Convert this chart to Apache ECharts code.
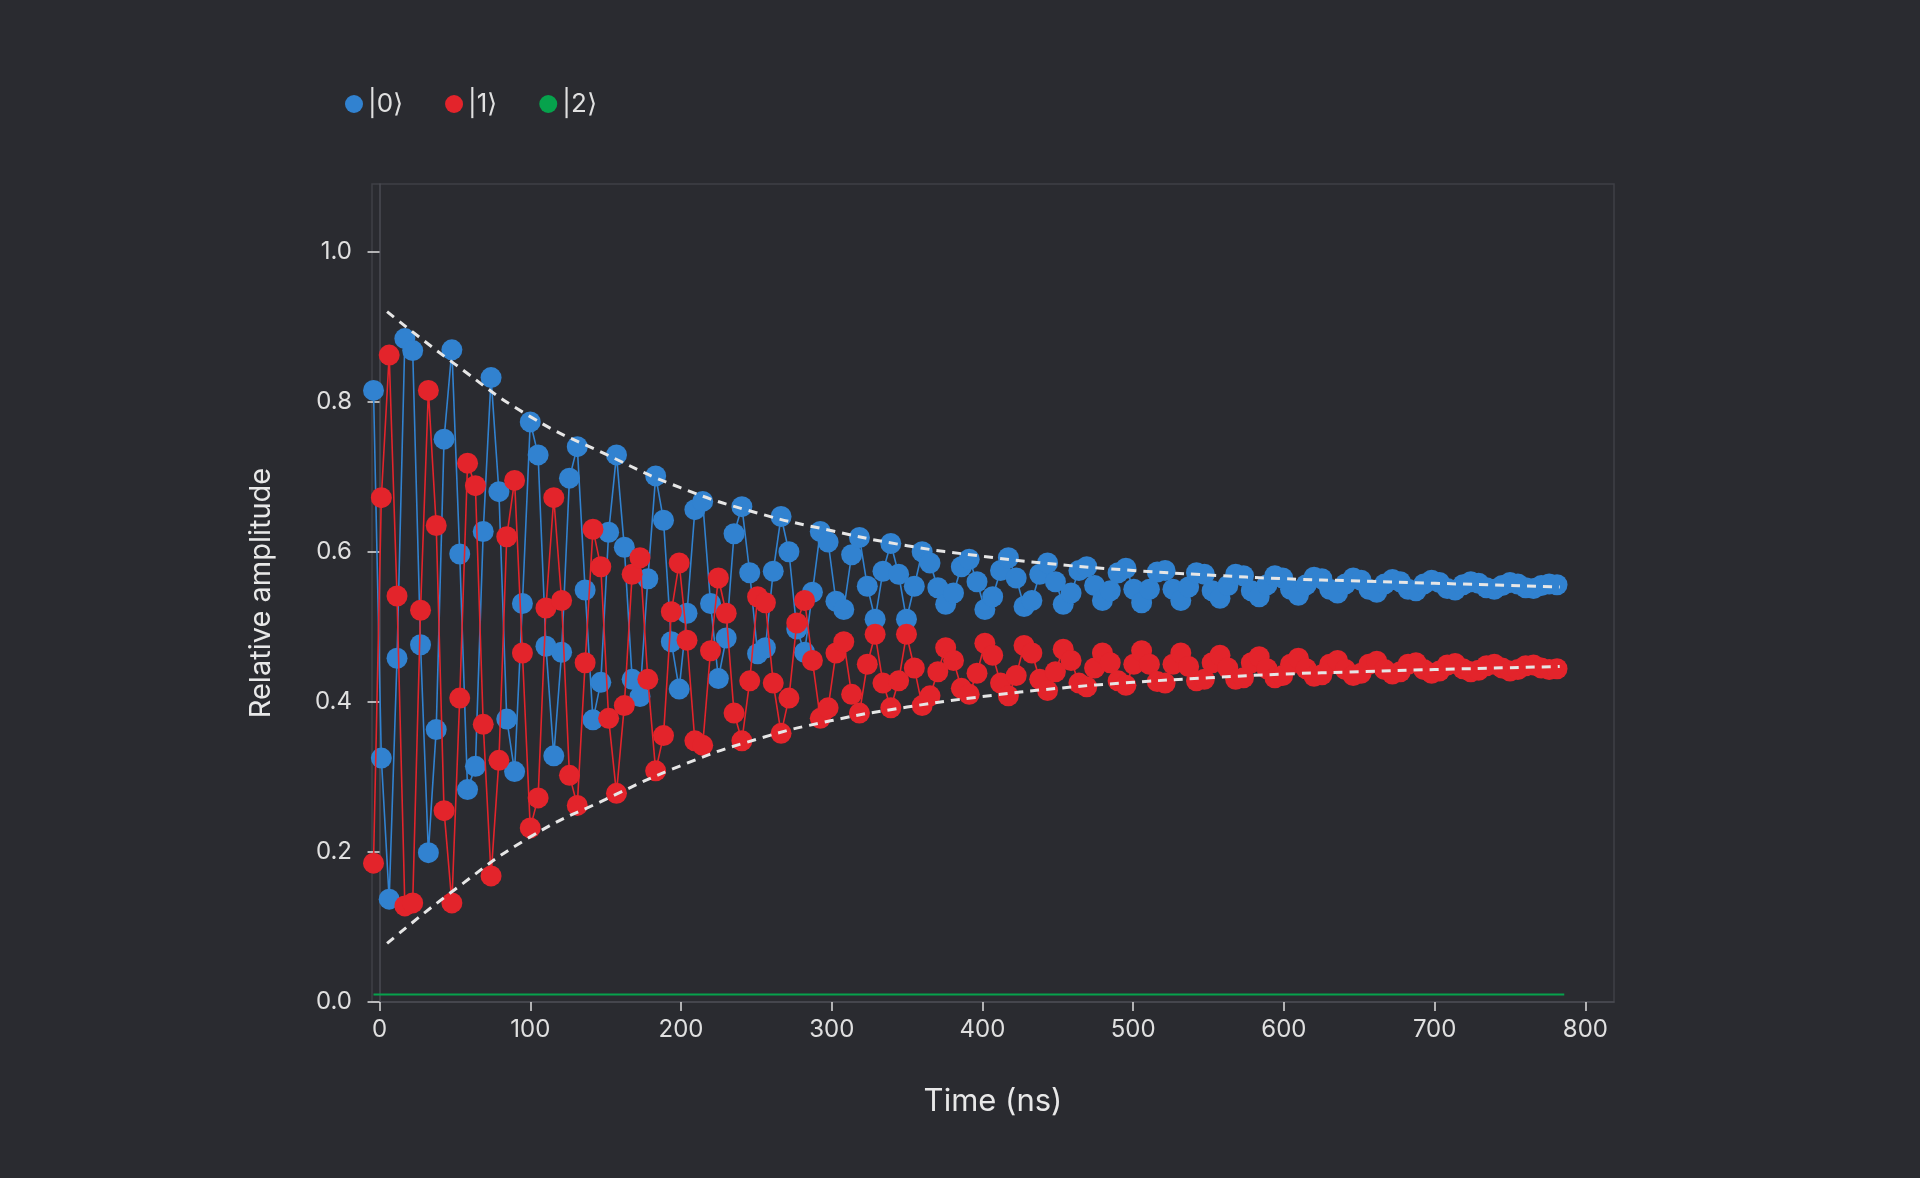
<!DOCTYPE html>
<html><head><meta charset="utf-8">
<script src="https://cdn.jsdelivr.net/npm/echarts@6/dist/echarts.min.js"></script>
<style>html,body{margin:0;padding:0;background:#2a2b30;}#c{width:1920px;height:1178px;}</style>
</head><body><div id="c"></div>
<script>
const times = [-4,1.2,6.4,11.6,16.8,22,27.2,32.4,37.6,42.8,48,53.2,58.4,63.6,68.8,74,79.2,84.4,89.6,94.8,100,105.2,110.4,115.6,120.8,126,131.2,136.4,141.6,146.8,152,157.2,162.4,167.6,172.8,178,183.2,188.4,193.6,198.8,204,209.2,214.4,219.6,224.8,230,235.2,240.4,245.6,250.8,256,261.2,266.4,271.6,276.8,282,287.2,292.4,297.6,302.8,308,313.2,318.4,323.6,328.8,334,339.2,344.4,349.6,354.8,360,365.2,370.4,375.6,380.8,386,391.2,396.4,401.6,406.8,412,417.2,422.4,427.6,432.8,438,443.2,448.4,453.6,458.8,464,469.2,474.4,479.6,484.8,490,495.2,500.4,505.6,510.8,516,521.2,526.4,531.6,536.8,542,547.2,552.4,557.6,562.8,568,573.2,578.4,583.6,588.8,594,599.2,604.4,609.6,614.8,620,625.2,630.4,635.6,640.8,646,651.2,656.4,661.6,666.8,672,677.2,682.4,687.6,692.8,698,703.2,708.4,713.6,718.8,724,729.2,734.4,739.6,744.8,750,755.2,760.4,765.6,770.8,776,781.2];
const pop0 = [0.815,0.325,0.137,0.458,0.884,0.868,0.476,0.199,0.363,0.75,0.869,0.597,0.283,0.314,0.627,0.832,0.68,0.377,0.307,0.531,0.773,0.729,0.474,0.328,0.466,0.698,0.740,0.549,0.376,0.426,0.626,0.729,0.606,0.43,0.407,0.564,0.701,0.642,0.48,0.417,0.518,0.656,0.667,0.531,0.431,0.485,0.624,0.660,0.572,0.464,0.472,0.574,0.647,0.6,0.497,0.466,0.546,0.627,0.613,0.534,0.523,0.596,0.619,0.554,0.51,0.574,0.611,0.57,0.51,0.554,0.6,
0.585,0.552,0.53,0.545,0.58,0.59,0.56,0.523,0.54,0.575,
0.592,0.565,0.527,0.535,0.57,0.585,0.56,0.53,0.545,0.575,
0.58,0.555,0.535,0.548,0.572,0.578,0.55,0.532,0.55,0.573,
0.575,0.55,0.535,0.553,0.572,0.57,0.548,0.538,0.555,0.57,
0.568,0.548,0.54,0.556,0.568,0.565,0.55,0.542,0.556,0.566,
0.564,0.55,0.545,0.557,0.565,0.562,0.55,0.546,0.557,0.563,
0.56,0.55,0.548,0.557,0.562,0.559,0.551,0.549,0.556,0.56,
0.558,0.552,0.55,0.555,0.559,0.557,0.552,0.551,0.555,0.557,0.556];
const pop1 = [0.185,0.672,0.862,0.541,0.128,0.132,0.522,0.815,0.635,0.255,
0.132,0.405,0.718,0.688,0.37,0.168,0.322,0.62,0.695,0.465,
0.232,0.272,0.525,0.672,0.535,0.302,0.262,0.452,0.63,0.58,
0.378,0.278,0.395,0.57,0.592,0.43,0.308,0.355,0.52,0.585,
0.482,0.348,0.342,0.468,0.565,0.518,0.385,0.348,0.428,0.54,
0.532,0.425,0.358,0.405,0.505,0.535,0.455,0.378,0.392,0.465,
0.48,0.41,0.385,0.45,0.49,0.425,0.392,0.428,0.49,0.445,
0.395,
0.408,0.44,0.472,0.455,0.418,0.41,0.438,0.478,0.462,0.425,
0.408,0.435,0.475,0.465,0.43,0.415,0.44,0.47,0.455,0.425,
0.42,0.445,0.465,0.452,0.428,0.422,0.45,0.468,0.45,0.427,
0.425,0.45,0.465,0.447,0.428,0.43,0.452,0.462,0.445,0.43,
0.432,0.452,0.46,0.444,0.432,0.435,0.45,0.458,0.444,0.434,
0.436,0.45,0.455,0.443,0.435,0.438,0.45,0.454,0.443,0.437,
0.44,0.45,0.452,0.443,0.438,0.441,0.449,0.451,0.444,0.44,
0.442,0.448,0.45,0.445,0.441,0.443,0.448,0.449,0.445,0.443,0.444];
const pop2Times = [-4, 786];
const pop2 = [0.01, 0.01];
const envTimes = [5,50,100,150,200,250,300,350,400,450,500,550,600,650,700,783];
const envUpper = [0.92,0.85,0.78,0.73,0.685,0.652,0.628,0.608,0.594,0.583,0.575,0.569,0.564,0.561,0.558,0.553];
const envLower = [0.078,0.15,0.22,0.27,0.315,0.35,0.375,0.393,0.407,0.418,0.426,0.432,0.437,0.44,0.443,0.447];
const xTicks = [0,100,200,300,400,500,600,700,800];
const yTicks = [0,0.2,0.4,0.6,0.8,1.0];
const legendNames = ['|0\u27E9','|1\u27E9','|2\u27E9'];

const zip = (xs, ys) => xs.map((x,i)=>[x, ys[i]]);
const font = 'Inter, "Noto Sans", sans-serif';
const chart = echarts.init(document.getElementById('c'));
const envStyle = {type:'line', smooth:true, showSymbol:false, symbol:'none', silent:true, z:5,
  lineStyle:{color:'#e6e6e6', width:3, type:[9,7]}};
chart.setOption({
  backgroundColor:'#2a2b30',
  animation:false,
  textStyle:{fontFamily:font},
  legend:{data:legendNames, left:340, top:86, itemGap:42, itemWidth:18, itemHeight:18, icon:'circle',
    textStyle:{color:'#e0e0e0', fontSize:26, fontFamily:font}},
  grid:{left:372, right:306, top:184, bottom:176, show:true, borderColor:'#3f4046', borderWidth:1.5, backgroundColor:'transparent'},
  xAxis:{type:'value', min:-5, max:819, name:'Time (ns)', nameLocation:'middle', nameGap:84,
    nameTextStyle:{color:'#e8e8e8', fontSize:31, fontFamily:font},
    axisLine:{show:true, onZero:false, lineStyle:{color:'#4a4b52', width:1.5}},
    axisTick:{show:true, customValues:xTicks, length:9, lineStyle:{color:'#e0e0e0', width:1.5}},
    axisLabel:{customValues:xTicks, color:'#e0e0e0', fontSize:24, margin:16, fontFamily:font},
    splitLine:{show:false}},
  yAxis:{type:'value', min:0, max:1.09, name:'Relative amplitude', nameLocation:'middle', nameGap:96,
    nameTextStyle:{color:'#e8e8e8', fontSize:29, fontFamily:font},
    axisLine:{show:true, lineStyle:{color:'#4a4b52', width:1.5}},
    axisTick:{show:true, customValues:yTicks, length:12, lineStyle:{color:'#e0e0e0', width:1.5}},
    axisLabel:{customValues:yTicks, color:'#e0e0e0', fontSize:24, margin:20, fontFamily:font,
      formatter:v=>v.toFixed(1)},
    splitLine:{show:false}},
  series:[
    {name:legendNames[0], type:'line', data:zip(times,pop0), symbol:'circle', symbolSize:21, z:3,
      itemStyle:{color:'#3182d0'}, lineStyle:{color:'#3182d0', width:1.6}},
    {name:legendNames[1], type:'line', data:zip(times,pop1), symbol:'circle', symbolSize:21, z:4,
      itemStyle:{color:'#e3242b'}, lineStyle:{color:'#e3242b', width:1.6}},
    {name:legendNames[2], type:'line', data:zip(pop2Times,pop2), symbol:'circle', showSymbol:false, z:2,
      itemStyle:{color:'#06a24c'}, lineStyle:{color:'#06a24c', width:2}},
    Object.assign({name:'upper', data:zip(envTimes,envUpper)}, envStyle),
    Object.assign({name:'lower', data:zip(envTimes,envLower)}, envStyle)
  ]
});
</script></body></html>
